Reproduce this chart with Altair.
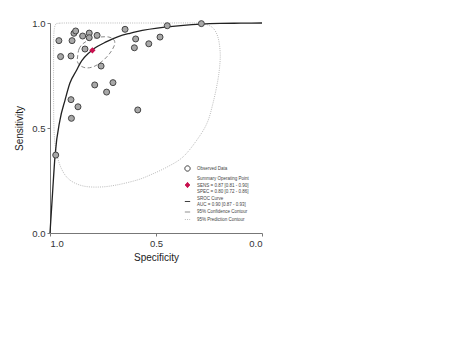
import altair as alt
import pandas as pd

# Observed study points (specificity, sensitivity)
obs_spec = [0.958, 0.950, 0.896, 0.901, 0.887, 0.879, 0.846, 0.835, 0.815, 0.815,
            0.778, 0.759, 0.789, 0.733, 0.703, 0.901, 0.868, 0.899, 0.646, 0.596,
            0.602, 0.534, 0.481, 0.447, 0.286, 0.586, 0.973]
obs_sens = [0.916, 0.840, 0.916, 0.843, 0.951, 0.962, 0.938, 0.876, 0.952, 0.930,
            0.941, 0.795, 0.705, 0.671, 0.716, 0.635, 0.601, 0.546, 0.970, 0.924,
            0.882, 0.901, 0.933, 0.987, 0.997, 0.586, 0.371]

# Summary operating point
sum_spec = [0.80]
sum_sens = [0.87]

# SROC curve
sroc_spec = [1.0, 0.988, 0.976, 0.953, 0.929, 0.906, 0.874, 0.858, 0.796, 0.733,
             0.678, 0.623, 0.591, 0.445, 0.288, 0.198, 0.100, 0.0]
sroc_sens = [0.0, 0.190, 0.371, 0.538, 0.633, 0.714, 0.776, 0.808, 0.875, 0.911,
             0.935, 0.951, 0.959, 0.982, 0.995, 0.998, 0.999, 1.0]

# 95% confidence contour
conf_spec = [0.870, 0.863, 0.844, 0.811, 0.764, 0.722, 0.698, 0.696, 0.717, 0.750,
             0.788, 0.825, 0.854, 0.870]
conf_sens = [0.838, 0.876, 0.902, 0.921, 0.933, 0.933, 0.919, 0.895, 0.857, 0.821,
             0.795, 0.786, 0.795, 0.814]

# 95% prediction contour
pred_spec = [0.975, 0.955, 0.860, 0.670, 0.480, 0.320, 0.270, 0.231, 0.208, 0.198,
             0.198, 0.208, 0.231, 0.259, 0.307, 0.373, 0.448, 0.528, 0.590, 0.684,
             0.764, 0.844, 0.906, 0.943, 0.967, 0.980, 0.983, 0.983, 0.982]
pred_sens = [0.990, 0.999, 1.000, 1.000, 1.000, 1.000, 0.995, 0.976, 0.933, 0.871,
             0.814, 0.729, 0.619, 0.524, 0.443, 0.362, 0.314, 0.276, 0.252, 0.229,
             0.219, 0.224, 0.252, 0.300, 0.371, 0.467, 0.633, 0.824, 0.943]

legend_items = [
    "Observed Data",
    "Summary Operating Point|SENS = 0.87 [0.81 - 0.90]|SPEC = 0.80 [0.72 - 0.86]",
    "SROC Curve|AUC = 0.90 [0.87 - 0.93]",
    "95% Confidence Contour",
    "95% Prediction Contour",
]
legend_fill = ["white", "#c8104e", "transparent", "transparent", "transparent"]
legend_stroke = ["#333333", "#c8104e", "#222222", "#888888", "#bbbbbb"]
# symbols of multi-line entries are moved down to the middle of their text block
legend_shape = ["circle",
                "M-0.9,2.27L0,1.27L0.9,2.27L0,3.27Z",
                "M-1,1.13L1,1.13",
                "M-1,0L1,0",
                "M-1,0L1,0"]
legend_dash = [[1, 0], [1, 0], [1, 0], [1, 0], [1, 1.2]]

FONT = "Liberation Sans"

obs_df = pd.DataFrame({"spec": obs_spec, "sens": obs_sens})
sum_df = pd.DataFrame({"spec": sum_spec, "sens": sum_sens})
sroc_df = pd.DataFrame({"spec": sroc_spec, "sens": sroc_sens, "i": range(len(sroc_spec))})
conf_df = pd.DataFrame({"spec": conf_spec, "sens": conf_sens, "i": range(len(conf_spec))})
pred_df = pd.DataFrame({"spec": pred_spec, "sens": pred_sens, "i": range(len(pred_spec))})
leg_df = pd.DataFrame({"item": legend_items, "spec": [None] * 5, "sens": [None] * 5})

x_enc = alt.X("spec:Q", scale=alt.Scale(domain=[1, 0], nice=False, zero=False),
              axis=alt.Axis(title="Specificity", values=[1, 0.5, 0], format=".1f",
                            grid=False, tickSize=3, labelPadding=2, titlePadding=5))
y_enc = alt.Y("sens:Q", scale=alt.Scale(domain=[0, 1], nice=False, zero=False),
              axis=alt.Axis(title="Sensitivity", values=[0, 0.5, 1], format=".1f",
                            grid=False, tickSize=3, labelPadding=2, titlePadding=7))

pred = alt.Chart(pred_df).mark_line(
    interpolate="cardinal-closed", color="#bbbbbb", strokeWidth=1, strokeDash=[1, 1.2]
).encode(x=x_enc, y=y_enc, order="i:Q")

conf = alt.Chart(conf_df).mark_line(
    interpolate="cardinal-closed", color="#888888", strokeWidth=1, strokeDash=[4, 2.5]
).encode(x=x_enc, y=y_enc, order="i:Q")

sroc = alt.Chart(sroc_df).mark_line(
    interpolate="monotone", color="#222222", strokeWidth=1.3
).encode(x=x_enc, y=y_enc, order="i:Q")

obs = alt.Chart(obs_df).mark_point(
    shape="circle", size=36, filled=True, fill="#a8a8a8", stroke="#444444",
    strokeWidth=1, opacity=1
).encode(x=x_enc, y=y_enc)

summ = alt.Chart(sum_df).mark_point(
    shape="diamond", size=40, filled=True, color="#c8104e", opacity=1
).encode(x=x_enc, y=y_enc)

legend = alt.Legend(
    title=None, orient="none", legendX=134, legendY=142,
    labelExpr="split(datum.label, '|')", labelFont=FONT, labelFontSize=4.5,
    labelColor="#444444", labelOffset=6, rowPadding=1.5, symbolSize=28,
    symbolStrokeWidth=1, labelLimit=300, padding=0,
)
leg = alt.Chart(leg_df).mark_point(opacity=1, strokeWidth=1).encode(
    x=x_enc, y=y_enc,
    fill=alt.Fill("item:N", scale=alt.Scale(domain=legend_items, range=legend_fill), legend=legend),
    stroke=alt.Stroke("item:N", scale=alt.Scale(domain=legend_items, range=legend_stroke), legend=legend),
    shape=alt.Shape("item:N", scale=alt.Scale(domain=legend_items, range=legend_shape), legend=legend),
    strokeDash=alt.StrokeDash("item:N", scale=alt.Scale(domain=legend_items, range=legend_dash), legend=legend),
)

chart = alt.layer(pred, conf, sroc, obs, summ, leg).properties(
    width=212, height=210,
    autosize=alt.AutoSizeParams(type="none"),
    padding={"left": 42, "top": 15, "right": 200, "bottom": 100},
).configure_view(stroke=None).configure_axis(
    domainColor="#777777", tickColor="#777777", labelColor="#333333",
    titleColor="#222222", labelFont=FONT, titleFont=FONT,
    labelFontSize=9.5, titleFontSize=10, titleFontWeight="normal",
)

chart.save("out.html", embed_options={"renderer": "svg", "actions": False})
